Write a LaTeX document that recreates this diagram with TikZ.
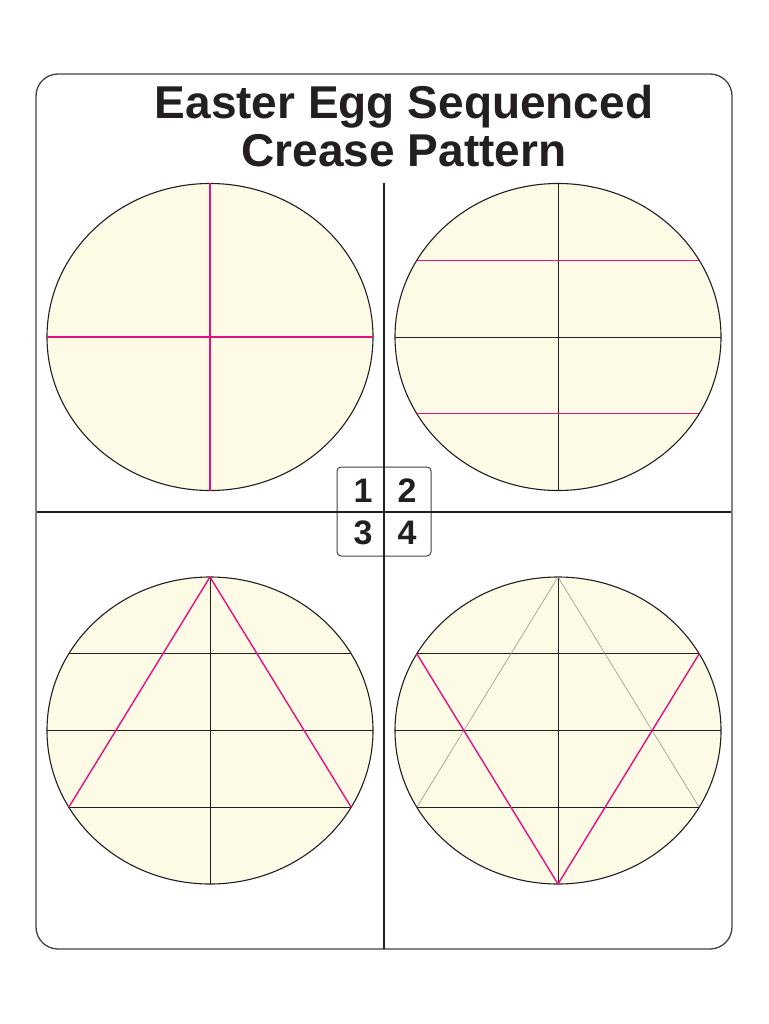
\documentclass[tikz,border=0pt]{standalone}
\usepackage{fontspec}
\setmainfont{Liberation Sans}
\usepackage{tikz}

\definecolor{eggfill}{RGB}{253,251,230}
\definecolor{crease}{RGB}{228,16,128}
\definecolor{guide}{RGB}{150,150,140}
\definecolor{ink}{RGB}{35,31,32}

\tikzset{
  egg/.style={draw=ink, line width=1.1pt, fill=eggfill},
  fold/.style={ink, line width=0.9pt},
  valley/.style={crease, line width=1.4pt},
  faint/.style={guide, line width=0.6pt},
  titletext/.style={text=ink, font=\bfseries\fontsize{46}{50}\selectfont, anchor=base, inner sep=0pt},
  stepnum/.style={text=ink, font=\bfseries\fontsize{34}{36}\selectfont, anchor=base, inner sep=0pt}
}

\begin{document}
\begin{tikzpicture}[x=1pt, y=-1pt]
  \useasboundingbox (0,0) rectangle (768,1024);
  % frame
  \draw [ink!85, line width=1.3pt, rounded corners=22pt] (36,74) rectangle (732,949);
  \node [titletext] (title1) at (404,119) {Easter Egg Sequenced};
  \node [titletext] (title2) at (404,167) {Crease Pattern};

  % panel 1
  \begin{scope}[shift={(210,337)}]
    \draw [egg] (0,0) ellipse (163 and 153.5);
    \draw [valley] (0,-153.5) -- (0,153.5);
    \draw [valley] (-163,0) -- (163,0);
  \end{scope}

  % panel 2
  \begin{scope}[shift={(558,337)}]
    \draw [egg] (0,0) ellipse (163 and 153.5);
    \draw [fold] (0,-153.5) -- (0,153.5);
    \draw [fold] (-163,0) -- (163,0);
    \draw [valley] (-141.2,-76.75) -- (141.2,-76.75);
    \draw [valley] (-141.2,76.75) -- (141.2,76.75);
  \end{scope}

  % panel 3
  \begin{scope}[shift={(210,730.5)}]
    \draw [egg] (0,0) ellipse (163 and 153.5);
    \draw [fold] (0,-153.5) -- (0,153.5);
    \draw [fold] (-163,0) -- (163,0);
    \draw [fold] (-141.2,-76.75) -- (141.2,-76.75);
    \draw [fold] (-141.2,76.75) -- (141.2,76.75);
    \draw [valley, line join=miter] (-141.2,76.75) -- (0,-153.5) -- (141.2,76.75);
  \end{scope}

  % panel 4
  \begin{scope}[shift={(558,730.5)}]
    \draw [egg] (0,0) ellipse (163 and 153.5);
    \draw [fold] (0,-153.5) -- (0,153.5);
    \draw [fold] (-163,0) -- (163,0);
    \draw [fold] (-141.2,-76.75) -- (141.2,-76.75);
    \draw [fold] (-141.2,76.75) -- (141.2,76.75);
    \draw [faint] (-141.2,76.75) -- (0,-153.5) -- (141.2,76.75);
    \draw [valley, line join=miter] (-141.2,-76.75) -- (0,153.5) -- (141.2,-76.75);
  \end{scope}

  % step key
  \draw [ink!85, fill=white, line width=1pt, rounded corners=4pt] (337,467) rectangle (431,556);
  \draw [ink, line width=1.2pt] (384,183) -- (384,949);
  \draw [ink, line width=1.2pt] (37,512) -- (731,512);
  \node [stepnum] (one) at (363,502) {1};
  \node [stepnum] (two) at (407,502) {2};
  \node [stepnum] (three) at (363,544) {3};
  \node [stepnum] (four) at (407,544) {4};
\end{tikzpicture}
\end{document}
